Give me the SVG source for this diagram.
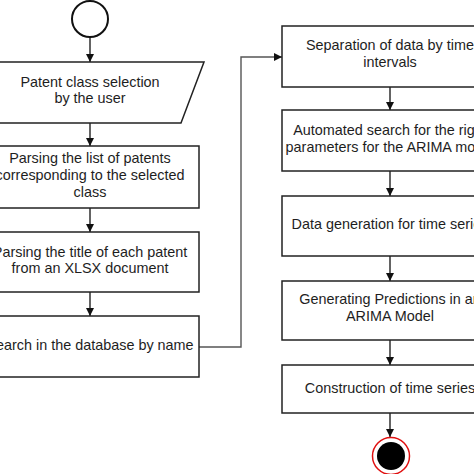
<svg xmlns="http://www.w3.org/2000/svg" width="474" height="474" viewBox="0 0 474 474">
<defs>
<marker id="arr" viewBox="0 0 10 10" refX="10" refY="5" markerWidth="8" markerHeight="8" markerUnits="userSpaceOnUse" orient="auto">
<path d="M0,0 L10,5 L0,10 Z" fill="#111"/>
</marker>
<style>
.box{fill:#fff;stroke:#222;stroke-width:1.5}
.t{font-family:"Liberation Sans",Arial,sans-serif;font-size:14.4px;fill:#1e1e1e;text-anchor:middle}
.c{fill:none;stroke:#222;stroke-width:1.4}
</style>
</defs>
<rect width="474" height="474" fill="#fff"/>
<g id="connectors">
<path class="c" d="M90,38 V62" marker-end="url(#arr)"/>
<path class="c" d="M90,123 V146" marker-end="url(#arr)"/>
<path class="c" d="M90,208 V232" marker-end="url(#arr)"/>
<path class="c" d="M90,292 V316" marker-end="url(#arr)"/>
<path class="c" d="M199,347 H241 V57 H282" marker-end="url(#arr)" style="stroke:#555"/>
<path class="c" d="M390,87 V110" marker-end="url(#arr)"/>
<path class="c" d="M390,171 V196" marker-end="url(#arr)"/>
<path class="c" d="M390,256 V281" marker-end="url(#arr)"/>
<path class="c" d="M390,340 V365" marker-end="url(#arr)"/>
<path class="c" d="M390,413 V437" marker-end="url(#arr)"/>
</g>
<g id="start"><circle cx="90" cy="19" r="18" fill="#fff" stroke="#111" stroke-width="2"/></g>
<g id="n1">
<polygon class="box" points="-22,62 204,62 181,123 -45,123"/>
<text class="t" x="90" y="87">Patent class selection</text>
<text class="t" x="90" y="103">by the user</text>
</g>
<g id="n2">
<rect class="box" x="-19" y="146" width="218" height="62"/>
<text class="t" x="90" y="163">Parsing the list of patents</text>
<text class="t" x="90" y="180">corresponding to the selected</text>
<text class="t" x="90" y="197">class</text>
</g>
<g id="n3">
<rect class="box" x="-19" y="232" width="218" height="60"/>
<text class="t" x="90" y="257">Parsing the title of each patent</text>
<text class="t" x="90" y="273">from an XLSX document</text>
</g>
<g id="n4">
<rect class="box" x="-19" y="316" width="218" height="61"/>
<text class="t" x="90" y="350">Search in the database by name</text>
</g>
<g id="n5">
<rect class="box" x="282" y="26" width="216" height="61"/>
<text class="t" x="390" y="50">Separation of data by time</text>
<text class="t" x="390" y="67">intervals</text>
</g>
<g id="n6">
<rect class="box" x="282" y="110" width="216" height="61"/>
<text class="t" x="390" y="135">Automated search for the right</text>
<text class="t" x="390" y="152">parameters for the ARIMA model</text>
</g>
<g id="n7">
<rect class="box" x="282" y="196" width="216" height="60"/>
<text class="t" x="390" y="229">Data generation for time series</text>
</g>
<g id="n8">
<rect class="box" x="282" y="281" width="216" height="59"/>
<text class="t" x="390" y="304">Generating Predictions in an</text>
<text class="t" x="390" y="321">ARIMA Model</text>
</g>
<g id="n9">
<rect class="box" x="282" y="365" width="216" height="48"/>
<text class="t" x="390" y="393">Construction of time series</text>
</g>
<g id="end">
<circle cx="391" cy="456" r="18.5" fill="#fff" stroke="#e01010" stroke-width="1.5"/>
<circle cx="391" cy="456" r="14" fill="#000"/>
</g>
</svg>
